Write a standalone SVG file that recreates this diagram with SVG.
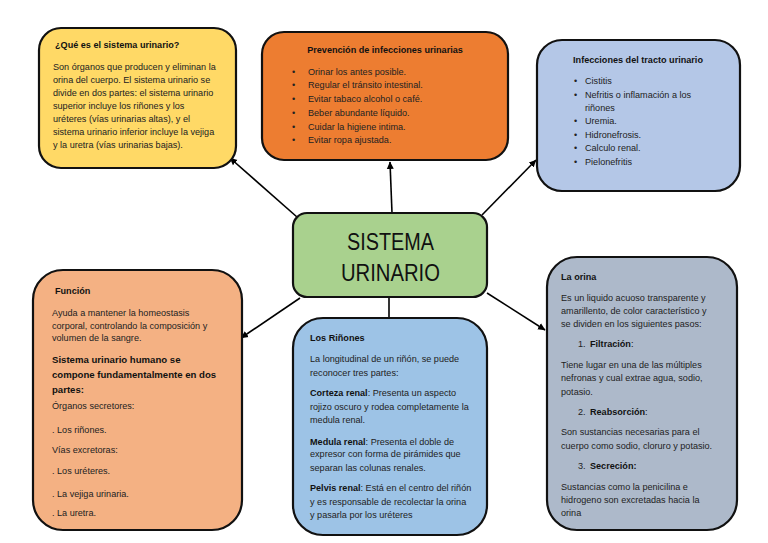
<svg xmlns="http://www.w3.org/2000/svg" width="768" height="543" viewBox="0 0 768 543">
<defs>
<marker id="ah" markerWidth="8" markerHeight="8" refX="7" refY="4" orient="auto" markerUnits="userSpaceOnUse">
<path d="M0,0.5 L7.5,4 L0,7.5 Z" fill="#000"/>
</marker>
<style>
.box{stroke:#111;stroke-width:2.2}
.t{font-family:"Liberation Sans",Arial,sans-serif;font-size:9.1px;fill:#222}
.b{font-weight:bold;fill:#111}
.bb{font-family:"Liberation Sans",Arial,sans-serif;font-size:9.6px;font-weight:bold;fill:#111}
.c{font-family:"Liberation Sans",Arial,sans-serif;font-size:23.5px;fill:#111}
.ln{stroke:#000;stroke-width:1.6;fill:none}
</style>
</defs>
<rect width="768" height="543" fill="#fff"/>

<g id="connectors">
<line class="ln" x1="297" y1="217" x2="230" y2="158" marker-end="url(#ah)"/>
<line class="ln" x1="392" y1="213" x2="390" y2="162" marker-end="url(#ah)"/>
<line class="ln" x1="482" y1="215" x2="536" y2="160" marker-end="url(#ah)"/>
<line class="ln" x1="300" y1="298" x2="241" y2="338" marker-end="url(#ah)"/>
<line class="ln" x1="389" y1="297" x2="389" y2="318"/>
<line class="ln" x1="487" y1="293" x2="545" y2="330" marker-end="url(#ah)"/>
</g>

<g id="que-es">
<rect class="box" x="39" y="28" width="197" height="140" rx="22" fill="#FFD966"/>
<text class="t b" x="55" y="48" font-size="8.7">¿Qué es el sistema urinario?</text>
<text class="t" x="53" y="70">Son órganos que producen y eliminan la</text>
<text class="t" x="53" y="83">orina del cuerpo. El sistema urinario se</text>
<text class="t" x="53" y="96">divide en dos partes: el sistema urinario</text>
<text class="t" x="53" y="109">superior incluye los riñones y los</text>
<text class="t" x="53" y="122">uréteres (vías urinarias altas), y el</text>
<text class="t" x="53" y="135">sistema urinario inferior incluye la vejiga</text>
<text class="t" x="53" y="148">y la uretra (vías urinarias bajas).</text>
</g>

<g id="prevencion">
<rect class="box" x="262" y="32" width="246" height="128" rx="22" fill="#ED7D31"/>
<text class="t b" x="385" y="53" font-size="9.4" text-anchor="middle">Prevención de infecciones urinarias</text>
<g class="t">
<text x="292" y="75">•</text><text x="308" y="75">Orinar los antes posible.</text>
<text x="292" y="88">•</text><text x="308" y="88">Regular el tránsito intestinal.</text>
<text x="292" y="102">•</text><text x="308" y="102">Evitar tabaco alcohol o café.</text>
<text x="292" y="116">•</text><text x="308" y="116">Beber abundante líquido.</text>
<text x="292" y="130">•</text><text x="308" y="130">Cuidar la higiene intima.</text>
<text x="292" y="143">•</text><text x="308" y="143">Evitar ropa ajustada.</text>
</g>
</g>

<g id="infecciones">
<rect class="box" x="537" y="40" width="203" height="151" rx="25" fill="#B4C7E7"/>
<text class="t b" x="638" y="63" font-size="9.6" text-anchor="middle">Infecciones del tracto urinario</text>
<g class="t">
<text x="574" y="84">•</text><text x="585" y="84">Cistitis</text>
<text x="574" y="98">•</text><text x="585" y="98">Nefritis o inflamación a los</text>
<text x="585" y="111">riñones</text>
<text x="574" y="124">•</text><text x="585" y="124">Uremia.</text>
<text x="574" y="138">•</text><text x="585" y="138">Hidronefrosis.</text>
<text x="574" y="151">•</text><text x="585" y="151">Calculo renal.</text>
<text x="574" y="165">•</text><text x="585" y="165">Pielonefritis</text>
</g>
</g>

<g id="centro">
<rect class="box" x="293" y="213" width="194" height="84" rx="14" fill="#A9D18E"/>
<text class="c" x="347" y="250" textLength="87" lengthAdjust="spacingAndGlyphs">SISTEMA</text>
<text class="c" x="341" y="281" textLength="99" lengthAdjust="spacingAndGlyphs">URINARIO</text>
</g>

<g id="funcion">
<rect class="box" x="33" y="270" width="209" height="260" rx="30" fill="#F4B183"/>
<text class="t b" x="55" y="294">Función</text>
<text class="t" x="52" y="316">Ayuda a mantener la homeostasis</text>
<text class="t" x="52" y="329">corporal, controlando la composición y</text>
<text class="t" x="52" y="341">volumen de la sangre.</text>
<text class="bb" x="52" y="363">Sistema urinario humano se</text>
<text class="bb" x="52" y="378">compone fundamentalmente en dos</text>
<text class="bb" x="52" y="393">partes:</text>
<text class="t" x="52" y="409">Órganos secretores:</text>
<text class="t" x="52" y="433">. Los riñones.</text>
<text class="t" x="52" y="453">Vías excretoras:</text>
<text class="t" x="52" y="474">. Los uréteres.</text>
<text class="t" x="52" y="497">. La vejiga urinaria.</text>
<text class="t" x="52" y="516">. La uretra.</text>
</g>

<g id="rinones">
<rect class="box" x="293" y="318" width="194" height="217" rx="30" fill="#9DC3E6"/>
<text class="t b" x="310" y="341">Los Riñones</text>
<text class="t" x="310" y="362">La longitudinal de un riñón, se puede</text>
<text class="t" x="310" y="376">reconocer tres partes:</text>
<text class="t" x="310" y="396"><tspan class="b">Corteza renal</tspan>: Presenta un aspecto</text>
<text class="t" x="310" y="410">rojizo oscuro y rodea completamente la</text>
<text class="t" x="310" y="423">medula renal.</text>
<text class="t" x="310" y="445"><tspan class="b">Medula renal</tspan>: Presenta el doble de</text>
<text class="t" x="310" y="457">expresor con forma de pirámides que</text>
<text class="t" x="310" y="471">separan las colunas renales.</text>
<text class="t" x="310" y="491"><tspan class="b">Pelvis renal</tspan>: Está en el centro del riñón</text>
<text class="t" x="310" y="505">y es responsable de recolectar la orina</text>
<text class="t" x="310" y="518">y pasarla por los uréteres</text>
</g>

<g id="orina">
<rect class="box" x="547" y="257" width="190" height="273" rx="30" fill="#ADB9CA"/>
<text class="t b" x="561" y="280">La orina</text>
<text class="t" x="561" y="301">Es un liquido acuoso transparente y</text>
<text class="t" x="561" y="314">amarillento, de color característico y</text>
<text class="t" x="561" y="327">se dividen en los siguientes pasos:</text>
<text class="t" x="578" y="347">1.</text><text class="t b" x="590" y="347">Filtración<tspan font-weight="normal">:</tspan></text>
<text class="t" x="561" y="368">Tiene lugar en una de las múltiples</text>
<text class="t" x="561" y="381">nefronas y cual extrae agua, sodio,</text>
<text class="t" x="561" y="395">potasio.</text>
<text class="t" x="578" y="415">2.</text><text class="t b" x="590" y="415">Reabsorción<tspan font-weight="normal">:</tspan></text>
<text class="t" x="561" y="435">Son sustancias necesarias para el</text>
<text class="t" x="561" y="449">cuerpo como sodio, cloruro y potasio.</text>
<text class="t" x="578" y="469">3.</text><text class="t b" x="590" y="469">Secreción:</text>
<text class="t" x="561" y="490">Sustancias como la penicilina e</text>
<text class="t" x="561" y="503">hidrogeno son excretadas hacia la</text>
<text class="t" x="561" y="516">orina</text>
</g>
</svg>
